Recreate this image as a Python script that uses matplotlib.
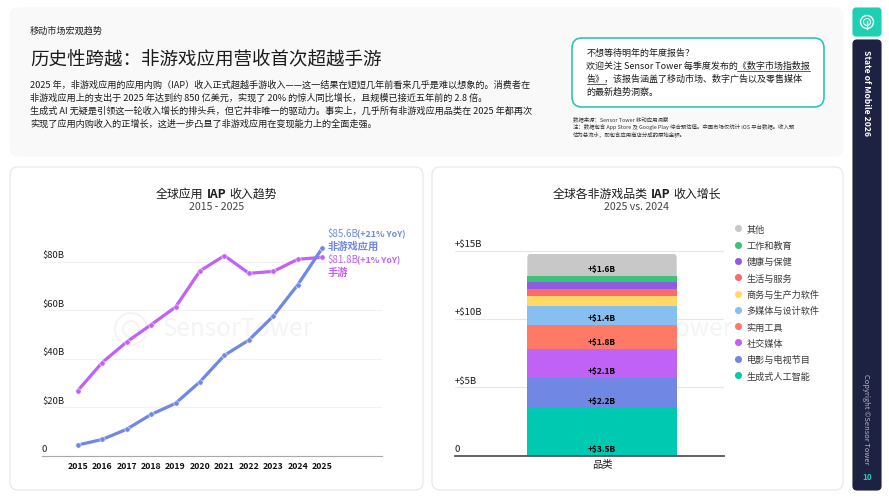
import matplotlib
matplotlib.use("Agg")
import matplotlib.pyplot as plt
from matplotlib.patches import FancyBboxPatch, Circle
from matplotlib.transforms import IdentityTransform

plt.rcParams['font.family'] = ['Noto Sans CJK SC', 'DejaVu Sans']

# data
years = [2015, 2016, 2017, 2018, 2019, 2020, 2021, 2022, 2023, 2024, 2025]
non_game = [4.4, 6.7, 10.9, 17.0, 21.6, 30.5, 41.4, 47.7, 57.6, 70.5, 85.6]
games = [26.8, 38.4, 46.9, 54.0, 61.3, 76.2, 82.5, 75.2, 76.0, 81.0, 81.8]
line_ticks = [0, 20, 40, 60, 80]
line_tick_labels = ["0", "$20B", "$40B", "$60B", "$80B"]

categories = ["生成式人工智能", "电影与电视节目", "社交媒体", "实用工具", "多媒体与设计软件",
              "商务与生产力软件", "生活与服务", "健康与保健", "工作和教育", "其他"]
growth = [3.5, 2.2, 2.1, 1.8, 1.4, 0.7, 0.5, 0.5, 0.5, 1.6]
growth_labels = ["+$3.5B", "+$2.2B", "+$2.1B", "+$1.8B", "+$1.4B", "", "", "", "", "+$1.6B"]
colors = ["#00c9b1", "#7088e4", "#c162f7", "#ff7a66", "#86bff0",
          "#ffd966", "#fb6b6b", "#8f5be0", "#3cc476", "#c8c8c8"]
bar_ticks = [0, 5, 10, 15]
bar_tick_labels = ["0", "+$5B", "+$10B", "+$15B"]

BLUE = "#7088e4"
PURPLE = "#c162f7"
INK = "#1c1c1c"

fig = plt.figure(figsize=(8.89, 5), dpi=100, facecolor="white")

# background layer in pixels
bg = fig.add_axes([0, 0, 1, 1], zorder=0)
bg.set_xlim(0, 889)
bg.set_ylim(500, 0)
bg.axis("off")


def card(x0, y0, x1, y1, face="white", edge="#e6e6e6", lw=0.8, r=8):
    bg.add_patch(FancyBboxPatch((x0 + r, y0 + r), x1 - x0 - 2 * r, y1 - y0 - 2 * r,
                                boxstyle=f"round,pad={r},rounding_size={r}",
                                fc=face, ec=edge, lw=lw))


def watermark(cx, tx):
    bg.add_patch(Circle((cx, 329), 16, fc="none", ec="#f4f4f4", lw=1.5))
    bg.add_patch(Circle((cx, 329), 8, fc="none", ec="#f4f4f4", lw=1.5))
    bg.text(tx, 329, "SensorTower", fontsize=17.5, color="#f4f4f4", va="center", ha="left")


def mixed_title(cx, y, before, bold, after, size=8.6, gap=3):
    # centred line with one bold word in the middle
    r = fig.canvas.get_renderer()
    parts = [bg.text(0, y, before, fontsize=size, color=INK, va="center"),
             bg.text(0, y, bold, fontsize=size, color=INK, va="center", fontweight="bold"),
             bg.text(0, y, after, fontsize=size, color=INK, va="center")]
    widths = [p.get_window_extent(r).width for p in parts]
    x = cx - (sum(widths) + 2 * gap) / 2
    for p, w in zip(parts, widths):
        p.set_x(x)
        x += w + gap


card(10, 8, 843, 156, face="#f9f9f9", edge="#f9f9f9")
card(10, 167, 423, 490)
card(432, 167, 843, 490)
watermark(131, 163)
watermark(553, 583)

# top text
bg.text(30, 31.5, "移动市场宏观趋势", fontsize=6.6, color=INK, va="center")
bg.text(30, 59.5, "历史性跨越：非游戏应用营收首次超越手游", fontsize=13.35, color=INK, va="center")
body = ["2025 年，非游戏应用的应用内购（IAP）收入正式超越手游收入——这一结果在短短几年前看来几乎是难以想象的。消费者在",
        "非游戏应用上的支出于 2025 年达到约 850 亿美元，实现了 20% 的惊人同比增长，且规模已接近五年前的 2.8 倍。",
        "生成式 AI 无疑是引领这一轮收入增长的排头兵，但它并非唯一的驱动力。事实上，几乎所有非游戏应用品类在 2025 年都再次",
        "实现了应用内购收入的正增长，这进一步凸显了非游戏应用在变现能力上的全面走强。"]
for i, line in enumerate(body):
    bg.text(30, 85 + i * 13, line, fontsize=6.6, color=INK, va="center")

# callout box
card(572, 38, 824, 107, face="white", edge="#2cc7b4", lw=1.2, r=10)
box_lines = ["不想等待明年的年度报告？",
             "欢迎关注 Sensor Tower 每季度发布的《数字市场指数报",
             "告》，该报告涵盖了移动市场、数字广告以及零售媒体",
             "的最新趋势洞察。"]
for i, line in enumerate(box_lines):
    bg.text(586.5, 53 + i * 13, line, fontsize=6.5, color=INK, va="center")
bg.plot([737, 810], [70.5, 70.5], color=INK, lw=0.5)
bg.plot([586.5, 606], [83.5, 83.5], color=INK, lw=0.5)

notes = ["数据来源：Sensor Tower 移动应用洞察",
         "注：数据包含 App Store 及 Google Play 综合预估值。中国市场仅统计 iOS 平台数据。收入预",
         "估为总流水，即包含应用商店分成的原始金额。"]
for i, line in enumerate(notes):
    bg.text(573, 119.5 + i * 7.2, line, fontsize=3.9, color="#333333", va="center")

# side bar
card(853, 8, 881, 36, face="#1fcfb2", edge="#1fcfb2", r=3)
bg.add_patch(Circle((867, 22), 6.5, fc="none", ec="white", lw=1))
bg.add_patch(Circle((867, 22), 3.5, fc="none", ec="white", lw=0.8))
bg.plot([867, 867], [21, 29], color="white", lw=1)
card(853, 40, 881, 490, face="#1d2142", edge="#1d2142", r=4)
bg.text(867, 92.5, "State of Mobile 2026", rotation=270, fontsize=6.2, fontweight="bold",
        color="white", ha="center", va="center")
bg.text(866.5, 419, "Copyright ©Sensor Tower", rotation=270, fontsize=5.4,
        color="#b4b6c4", ha="center", va="center")
bg.text(867, 477, "10", fontsize=6, fontweight="bold", color="#1fcfb2", ha="center", va="center")

# chart titles
mixed_title(216.5, 194, "全球应用", "IAP", "收入趋势")
bg.text(216.5, 207.5, "2015 - 2025", fontsize=7.6, color="#444444", ha="center", va="center")
mixed_title(637, 194, "全球各非游戏品类", "IAP", "收入增长")
bg.text(637, 207.5, "2025 vs. 2024", fontsize=7.6, color="#444444", ha="center", va="center")


def chart_axes(x0, y0, x1, y1):
    a = fig.add_axes([x0 / 889, 1 - y1 / 500, (x1 - x0) / 889, (y1 - y0) / 500], zorder=1)
    a.patch.set_alpha(0)
    for s in ["top", "right", "left"]:
        a.spines[s].set_visible(False)
    a.tick_params(length=0)
    return a


# line chart
ax = chart_axes(42, 213.2, 381.7, 455.7)
ax.set_xlim(2013.54, 2027.43)
ax.set_ylim(0, 100)
ax.plot(years, games, color=PURPLE, lw=2.3, marker="o", ms=3.8, mec="white", mew=0.35,
        clip_on=False, zorder=3)
ax.plot(years, non_game, color=BLUE, lw=2.3, marker="o", ms=3.8, mec="white", mew=0.35,
        clip_on=False, zorder=4)
ax.set_xticks(years)
ax.set_xticklabels(years, fontsize=6.3, color="#111111", fontweight="bold")
ax.tick_params(axis="x", pad=4.2)
ax.set_yticks(line_ticks)
ax.set_yticklabels([])
ax.grid(axis="y", color="#f2f2f2", lw=0.8)
ax.set_axisbelow(True)
ax.spines["bottom"].set_color("#a8a8a8")
for v, lab in zip(line_ticks, line_tick_labels):
    ax.annotate(lab, (0, v), xycoords=ax.get_yaxis_transform(), xytext=(0, 4.3),
                textcoords="offset points", fontsize=6.8, color=INK, va="center", ha="left")

ax.annotate(f"${non_game[-1]}B", (years[-1], non_game[-1]), xytext=(3.5, 10.5), textcoords="offset points",
            fontsize=7, color=BLUE, va="center")
ax.annotate("(+21% YoY)", (years[-1], non_game[-1]), xytext=(25, 9.5), textcoords="offset points",
            fontsize=6.4, color=BLUE, va="center", fontweight="bold")
ax.annotate("非游戏应用", (years[-1], non_game[-1]), xytext=(3.5, 1), textcoords="offset points",
            fontsize=7.4, color=BLUE, va="center", fontweight="bold")
ax.annotate(f"${games[-1]}B", (years[-1], games[-1]), xytext=(3.5, -2), textcoords="offset points",
            fontsize=7, color=PURPLE, va="center")
ax.annotate("(+1% YoY)", (years[-1], games[-1]), xytext=(25, -2.5), textcoords="offset points",
            fontsize=6.4, color=PURPLE, va="center", fontweight="bold")
ax.annotate("手游", (years[-1], games[-1]), xytext=(3.5, -11), textcoords="offset points",
            fontsize=7.4, color=PURPLE, va="center", fontweight="bold")

# stacked bar
ax2 = chart_axes(454.7, 230.0, 724, 455.7)
ax2.set_xlim(-147.3 / 149.4, 122 / 149.4)
ax2.set_ylim(0, 225.7 / 13.65)
bottom = 0
bars = []
for val, col, lab in zip(growth, colors, growth_labels):
    b = ax2.bar(0, val, bottom=bottom, width=1, color=col, zorder=3)[0]
    bars.append(b)
    if lab:
        ax2.annotate(lab, (0, bottom), xytext=(0, 4.5), textcoords="offset points", ha="center",
                     va="center", fontsize=6, fontweight="bold", color="black", zorder=5)
    bottom += val
ax2.set_xticks([0])
ax2.set_xticklabels(["品类"], fontsize=7.4, color=INK)
ax2.tick_params(axis="x", pad=3)
ax2.set_yticks(bar_ticks)
ax2.set_yticklabels([])
ax2.grid(axis="y", color="#e6e6e6", lw=0.8)
ax2.set_axisbelow(True)
ax2.spines["bottom"].set_color("#555555")
ax2.spines["bottom"].set_linewidth(1.3)
ax2.spines["bottom"].set_zorder(6)
for v, lab in zip(bar_ticks, bar_tick_labels):
    ax2.annotate(lab, (0, v), xycoords=ax2.get_yaxis_transform(), xytext=(0, 4.6),
                 textcoords="offset points", fontsize=6.9, color=INK, va="center", ha="left")

# rounded top of the stack
bb = bars[-1].get_window_extent()
clip = FancyBboxPatch((bb.x0 + 4, bb.y0 - 10), bb.width - 8, bb.height + 6,
                      boxstyle="round,pad=4,rounding_size=4", transform=IdentityTransform())
bars[-1].set_clip_path(clip)

# legend
for i, (name, col) in enumerate(zip(categories[::-1], colors[::-1])):
    y = 228.3 + i * 16.3
    bg.scatter(738.3, y, s=26, color=col, linewidths=0)
    bg.text(746.7, y + 2, name, fontsize=6.6, color="#3a3a3a", va="center")

fig.savefig("out.png", dpi=100)
